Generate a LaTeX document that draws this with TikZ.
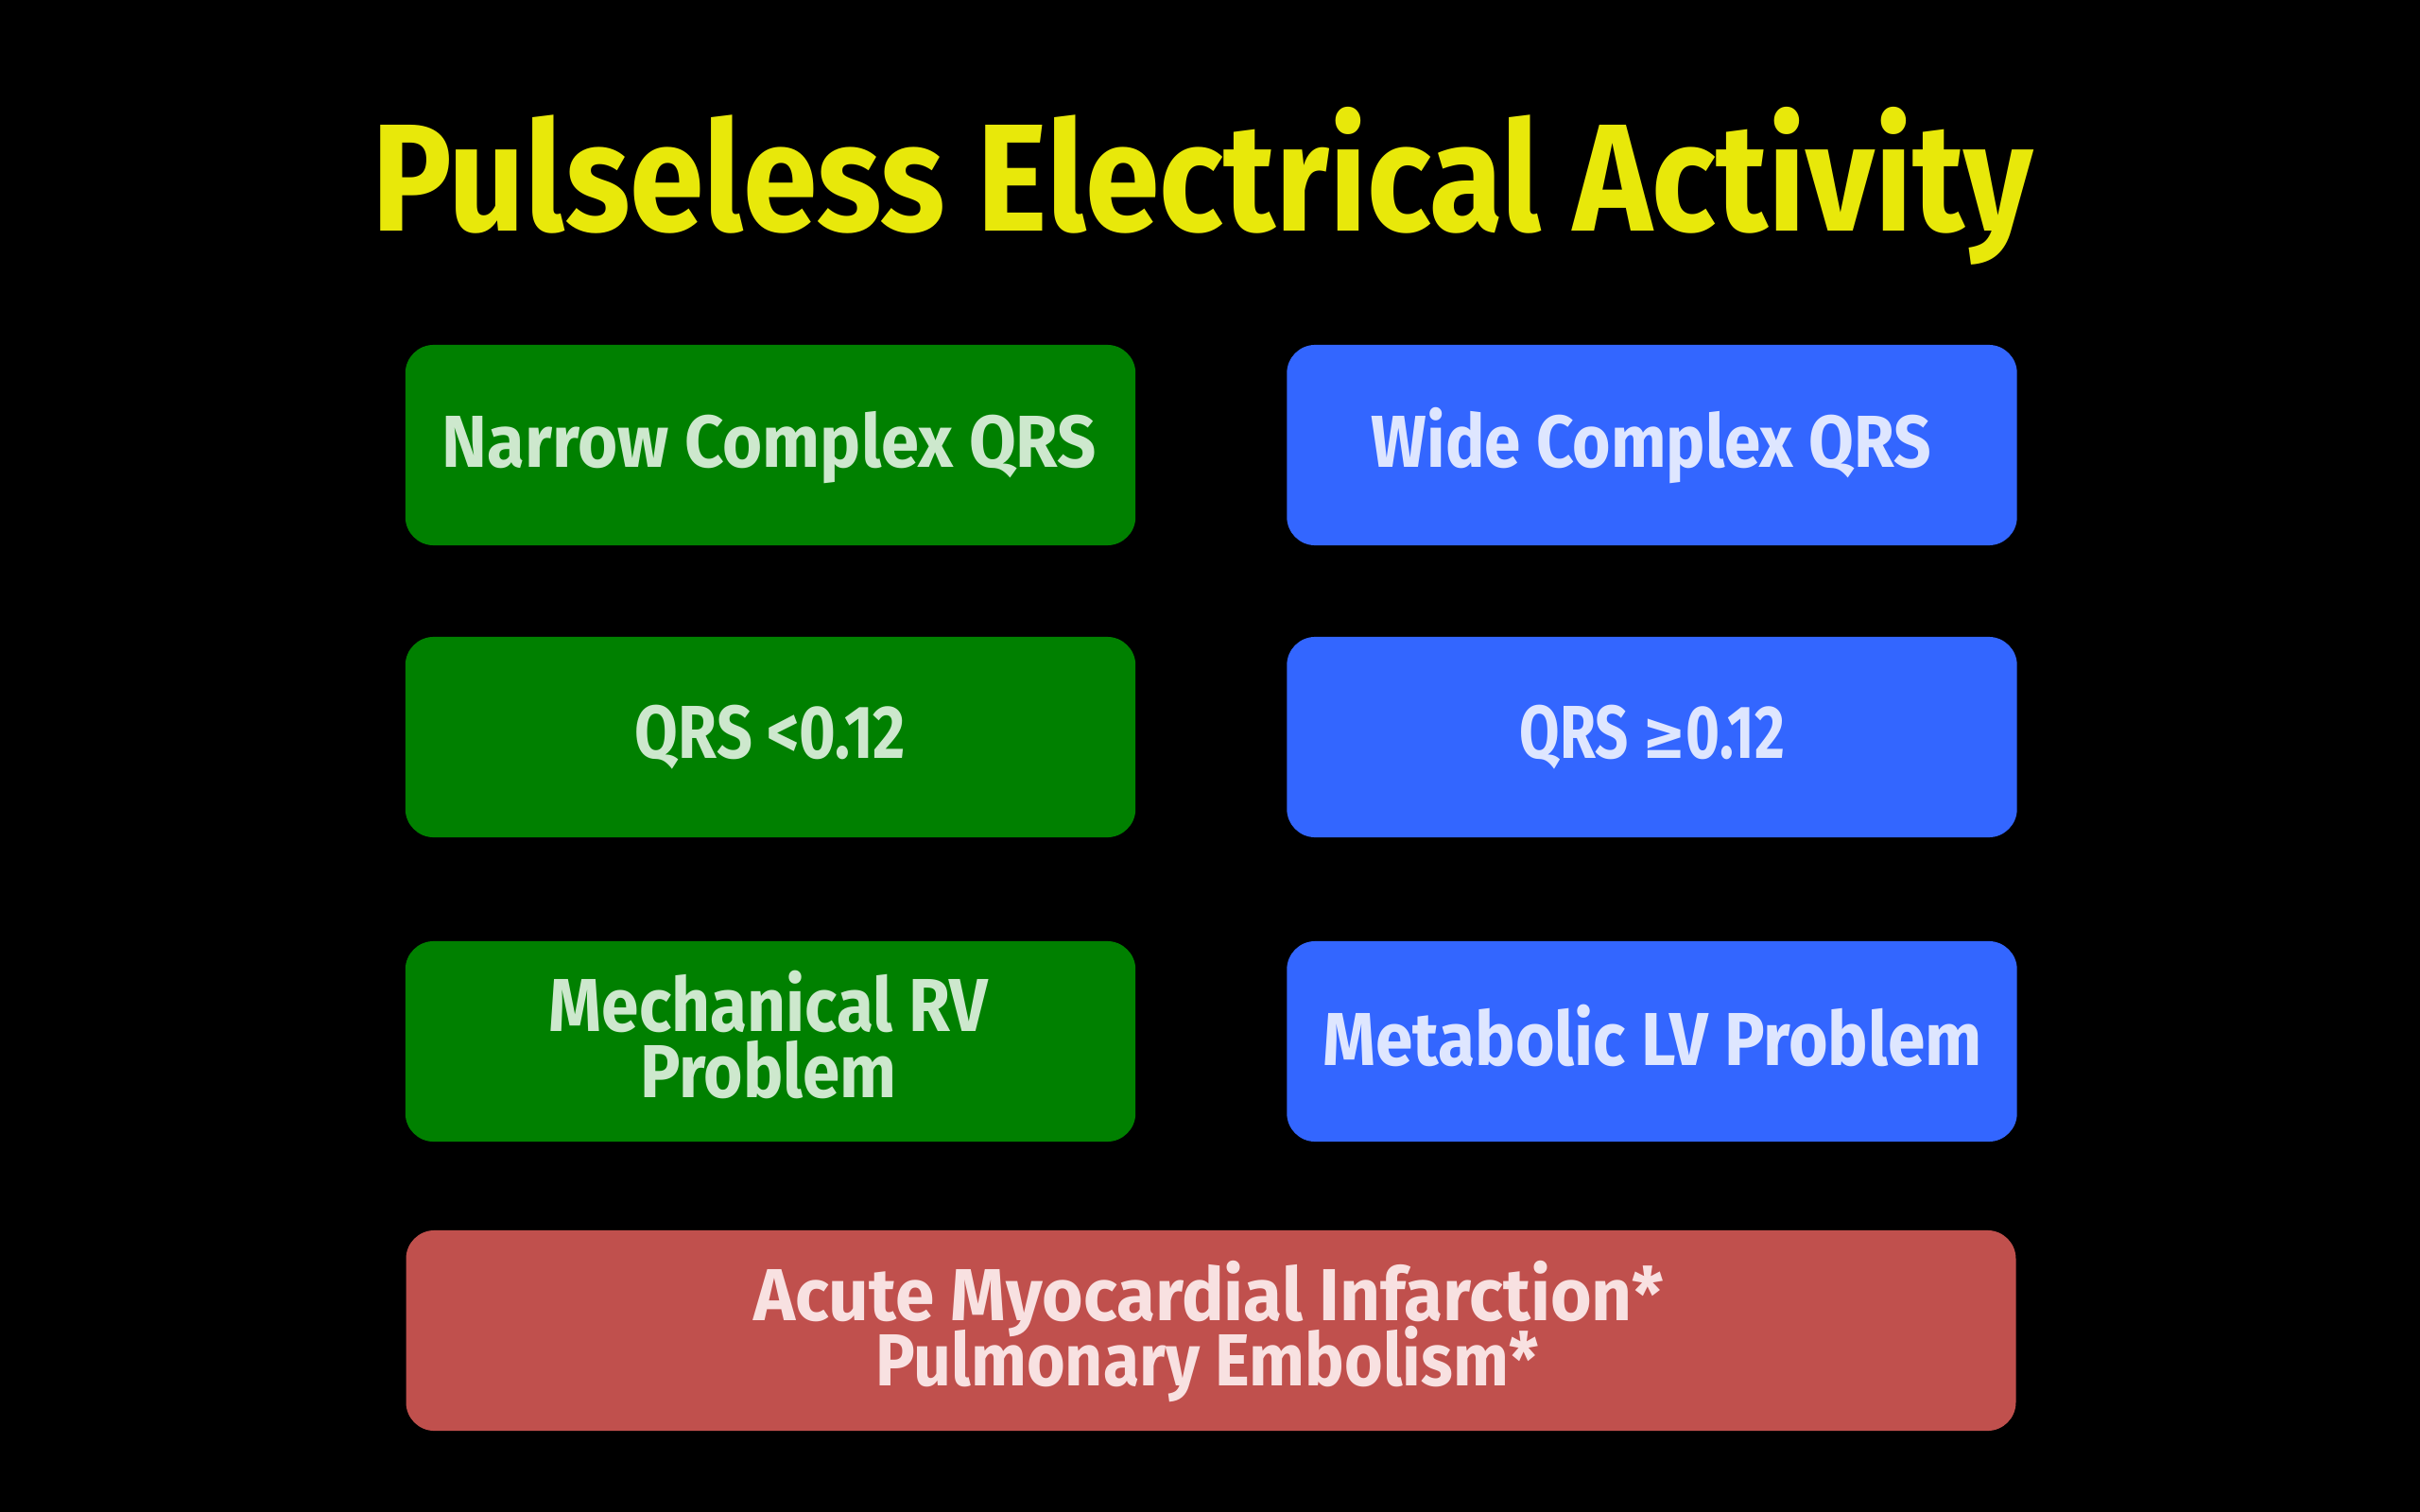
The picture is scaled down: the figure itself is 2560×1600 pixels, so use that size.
\documentclass[tikz,border=0pt]{standalone}
\usepackage{fontspec}
\usepackage{graphicx}
\setmainfont{Fira Sans}
\newfontfamily\symfont{DejaVu Sans}
\definecolor{gbg}{RGB}{0,128,0}
\definecolor{bbg}{RGB}{51,102,255}
\definecolor{rbg}{RGB}{192,80,77}
\definecolor{ttl}{RGB}{232,232,10}
\definecolor{gtx}{RGB}{205,232,205}
\definecolor{btx}{RGB}{222,230,255}
\definecolor{rtx}{RGB}{248,225,225}
\newcommand\fitt[3]{\resizebox{#1}{#2}{\smash{#3}\rule{0pt}{\fontcharht\font`\H}}}
\tikzset{
  box/.style={rectangle, rounded corners=0.3cm, inner sep=0pt, minimum width=7.72cm, minimum height=2.12cm},
  widebox/.style={box, minimum width=17.02cm},
  gbox/.style={box, fill=gbg},
  bbox/.style={box, fill=bbg},
  rbox/.style={widebox, fill=rbg},
  txt/.style={anchor=base, inner sep=0pt, font=\bfseries},
}
\begin{document}
\begin{tikzpicture}[x=0.01cm, y=-0.01cm]
\fill[black] (0,0) rectangle (2560,1600);
\useasboundingbox (0,0) rectangle (2560,1600);
% title
\node (title) [txt, text=ttl] at (1272,245) {\fitt{17.56cm}{1.12cm}{Pulseless Electrical Activity}};
% boxes
\node (g1) [gbox] at (815,471) {};
\node (b1) [bbox] at (1747.5,471) {};
\node (g2) [gbox] at (815,780) {};
\node (b2) [bbox] at (1747.5,780) {};
\node (g3) [gbox] at (815,1102) {};
\node (b3) [bbox] at (1747.5,1102) {};
\node (r4) [rbox] at (1281,1408) {};
% texts
\node (t1) [txt, text=gtx] at (814,494) {\fitt{6.92cm}{0.54cm}{Narrow Complex QRS}};
\node (t2) [txt, text=btx] at (1747,494) {\fitt{5.92cm}{0.54cm}{Wide Complex QRS}};
\node (t3) [txt, text=gtx] at (815,802) {\fitt{2.86cm}{0.55cm}{QRS <0.12}};
\node (t4) [txt, text=btx] at (1748,802) {\fitt{2.80cm}{0.55cm}{QRS {\symfont\small ≥}0.12}};
\node (t5) [txt, text=gtx] at (813,1091) {\fitt{4.64cm}{0.55cm}{Mechanical RV}};
\node (t6) [txt, text=gtx] at (813,1161) {\fitt{2.71cm}{0.55cm}{Problem}};
\node (t7) [txt, text=btx] at (1748,1127) {\fitt{6.97cm}{0.55cm}{Metabolic LV Problem}};
\node (t8) [txt, text=rtx] at (1279,1397) {\fitt{9.62cm}{0.54cm}{Acute Myocardial Infarction*}};
\node (t9) [txt, text=rtx] at (1277,1466) {\fitt{7.00cm}{0.54cm}{Pulmonary Embolism*}};
\end{tikzpicture}
\end{document}
